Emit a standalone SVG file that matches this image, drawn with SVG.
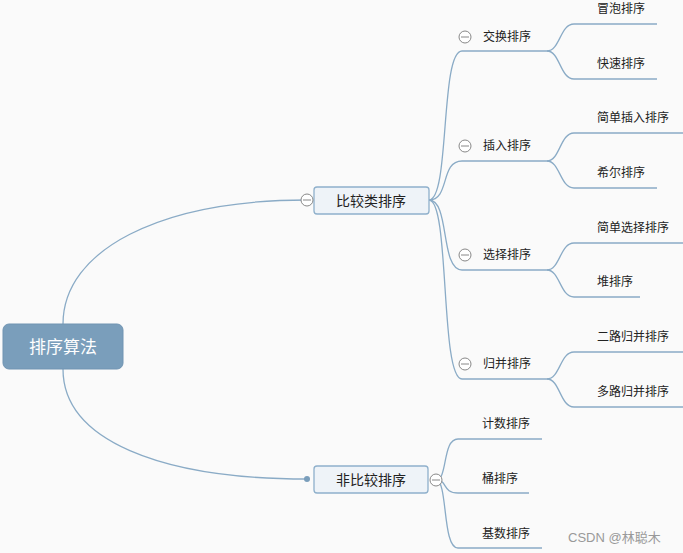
<svg xmlns="http://www.w3.org/2000/svg" width="683" height="553" viewBox="0 0 683 553">
<style>
.c{fill:none;stroke:#8AABC6;stroke-width:1.3}
.t{font-family:"Noto Sans CJK SC",sans-serif;font-size:12px;fill:#222}
.m{font-family:"Noto Sans CJK SC",sans-serif;font-size:14px;fill:#222;text-anchor:middle}
.b{fill:#EEF3F8;stroke:#8FB0CB;stroke-width:1.3}
.o{fill:#fff;stroke:#888;stroke-width:1}
.ol{stroke:#888;stroke-width:1}
</style>
<rect width="683" height="553" fill="#FAFAFA"/>
<g id="connectors">
<path class="c" d="M63,324 C63,250 160,200 307,200"/>
<path class="c" d="M63,369 C63,440 160,479 307,479"/>
<path class="c" d="M429,200 C450,200 440,51 462,51 L547,51"/>
<path class="c" d="M429,200 C450,200 440,161 462,161 L547,161"/>
<path class="c" d="M429,200 C450,200 440,270 462,270 L547,270"/>
<path class="c" d="M429,200 C450,200 440,379 462,379 L547,379"/>
<path class="c" d="M547,51 C560,51 560,24 574,24 L657,24"/>
<path class="c" d="M547,51 C560,51 560,79 574,79 L657,79"/>
<path class="c" d="M547,161 C560,161 560,133 574,133 L683,133"/>
<path class="c" d="M547,161 C560,161 560,188 574,188 L657,188"/>
<path class="c" d="M547,270 C560,270 560,243 574,243 L683,243"/>
<path class="c" d="M547,270 C560,270 560,297 574,297 L640,297"/>
<path class="c" d="M547,379 C560,379 560,352 574,352 L683,352"/>
<path class="c" d="M547,379 C560,379 560,407 574,407 L683,407"/>
<path class="c" d="M436,480 C448,480 442,439 458,439 L542,439"/>
<path class="c" d="M436,480 C448,480 442,493 458,493 L529,493"/>
<path class="c" d="M436,480 C448,480 442,548 458,548 L542,548"/>
<circle cx="307" cy="479" r="3" fill="#7A9EBB"/>
</g>
<g id="root"><rect x="3" y="324" width="120" height="45" rx="6" fill="#7A9EBB" stroke="#7094B2"/><text x="63" y="353" class="m" style="fill:#fff;font-size:17px">排序算法</text></g>
<g id="n1"><rect class="b" x="314" y="187" width="115" height="27" rx="3"/><text x="371" y="206" class="m">比较类排序</text><circle class="o" cx="307" cy="200" r="6"/><line class="ol" x1="303" y1="200" x2="311" y2="200"/></g>
<g id="n2"><rect class="b" x="314" y="466" width="114" height="27" rx="3"/><text x="371" y="485" class="m">非比较排序</text><circle class="o" cx="436" cy="480" r="6"/><line class="ol" x1="432" y1="480" x2="440" y2="480"/></g>
<g id="n11"><circle class="o" cx="465" cy="37" r="6"/><line class="ol" x1="461" y1="37" x2="469" y2="37"/><text class="t" x="483" y="41">交换排序</text></g>
<g id="n12"><circle class="o" cx="465" cy="146" r="6"/><line class="ol" x1="461" y1="146" x2="469" y2="146"/><text class="t" x="483" y="150">插入排序</text></g>
<g id="n13"><circle class="o" cx="465" cy="255" r="6"/><line class="ol" x1="461" y1="255" x2="469" y2="255"/><text class="t" x="483" y="259">选择排序</text></g>
<g id="n14"><circle class="o" cx="465" cy="364" r="6"/><line class="ol" x1="461" y1="364" x2="469" y2="364"/><text class="t" x="483" y="368">归并排序</text></g>
<g id="l1"><text class="t" x="597" y="13">冒泡排序</text></g>
<g id="l2"><text class="t" x="597" y="68">快速排序</text></g>
<g id="l3"><text class="t" x="597" y="122">简单插入排序</text></g>
<g id="l4"><text class="t" x="597" y="177">希尔排序</text></g>
<g id="l5"><text class="t" x="597" y="232">简单选择排序</text></g>
<g id="l6"><text class="t" x="597" y="286">堆排序</text></g>
<g id="l7"><text class="t" x="597" y="341">二路归并排序</text></g>
<g id="l8"><text class="t" x="597" y="396">多路归并排序</text></g>
<g id="l9"><text class="t" x="482" y="428">计数排序</text></g>
<g id="l10"><text class="t" x="482" y="483">桶排序</text></g>
<g id="l11"><text class="t" x="482" y="538">基数排序</text></g>
<text x="568" y="542" style="font-family:'Liberation Sans','Noto Sans CJK SC',sans-serif;font-size:13px;fill:#999">CSDN @林聪木</text>
</svg>
